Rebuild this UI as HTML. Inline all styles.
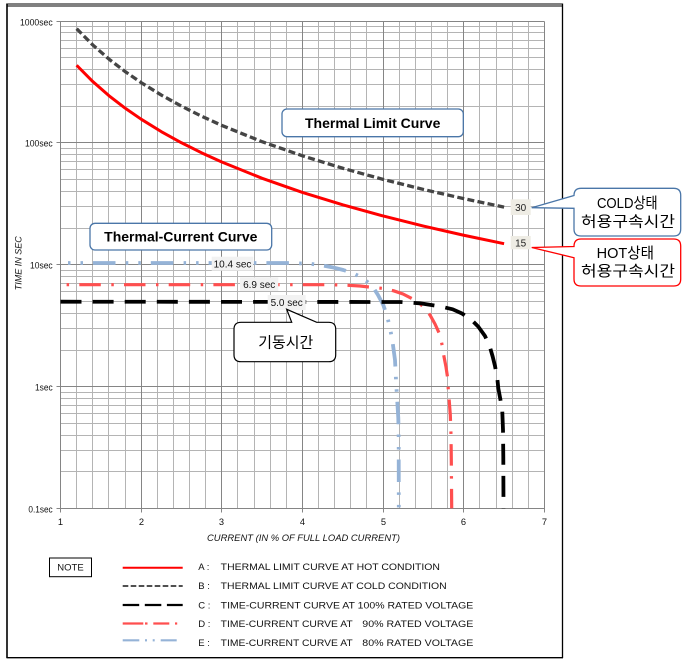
<!DOCTYPE html>
<html><head><meta charset="utf-8"><style>
html,body{margin:0;padding:0;background:#fff;}
svg{display:block;}
text{font-family:"Liberation Sans","Noto Sans CJK KR",sans-serif;}
</style></head><body>
<svg width="690" height="666" viewBox="0 0 690 666" xmlns="http://www.w3.org/2000/svg">
<rect x="0" y="0" width="690" height="666" fill="#fff"/>
<!-- frame -->
<g stroke="#000" fill="none">
<line x1="7" y1="4" x2="563" y2="4" stroke-width="1"/>
<line x1="7" y1="6" x2="563" y2="6" stroke-width="1"/>
<line x1="7" y1="3.5" x2="7" y2="658" stroke-width="1.6"/>
<line x1="562.5" y1="3.5" x2="562.5" y2="658" stroke-width="1.3"/>
<line x1="6.5" y1="657.7" x2="563" y2="657.7" stroke-width="1.3"/>
</g>
<!-- minor grid -->
<path fill="none" stroke="#b4b4b4" stroke-width="1" d="
M76.5,21.5V508.5 M92.5,21.5V508.5 M108.5,21.5V508.5 M125.5,21.5V508.5
M157.5,21.5V508.5 M173.5,21.5V508.5 M189.5,21.5V508.5 M205.5,21.5V508.5
M237.5,21.5V508.5 M254.5,21.5V508.5 M270.5,21.5V508.5 M286.5,21.5V508.5
M318.5,21.5V508.5 M334.5,21.5V508.5 M350.5,21.5V508.5 M366.5,21.5V508.5
M399.5,21.5V508.5 M415.5,21.5V508.5 M431.5,21.5V508.5 M447.5,21.5V508.5
M479.5,21.5V508.5 M496.5,21.5V508.5 M512.5,21.5V508.5 M528.5,21.5V508.5
M60.5,471.5H544.5 M60.5,450.5H544.5 M60.5,435.5H544.5 M60.5,423.5H544.5 M60.5,413.5H544.5 M60.5,405.5H544.5 M60.5,398.5H544.5 M60.5,392.5H544.5
M60.5,350.5H544.5 M60.5,328.5H544.5 M60.5,313.5H544.5 M60.5,301.5H544.5 M60.5,291.5H544.5 M60.5,283.5H544.5 M60.5,276.5H544.5 M60.5,270.5H544.5
M60.5,228.5H544.5 M60.5,206.5H544.5 M60.5,191.5H544.5 M60.5,179.5H544.5 M60.5,169.5H544.5 M60.5,161.5H544.5 M60.5,154.5H544.5 M60.5,148.5H544.5
M60.5,106.5H544.5 M60.5,84.5H544.5 M60.5,69.5H544.5 M60.5,57.5H544.5 M60.5,48.5H544.5 M60.5,40.5H544.5 M60.5,32.5H544.5 M60.5,26.5H544.5
"/>
<!-- major grid -->
<path fill="none" stroke="#858585" stroke-width="1" d="
M60.5,21.5V508.5 M141.5,21.5V508.5 M221.5,21.5V508.5 M302.5,21.5V508.5 M383.5,21.5V508.5 M463.5,21.5V508.5 M544.5,21.5V508.5
M60.5,21.5H544.5 M60.5,142.5H544.5 M60.5,264.5H544.5 M60.5,386.5H544.5 M60.5,508.5H544.5
M56.5,21.5H60.5 M56.5,142.5H60.5 M56.5,264.5H60.5 M56.5,386.5H60.5 M56.5,508.5H60.5
M60.5,508.5V512.5 M141.5,508.5V512.5 M221.5,508.5V512.5 M302.5,508.5V512.5 M383.5,508.5V512.5 M463.5,508.5V512.5 M544.5,508.5V512.5
"/>
<!-- axis labels -->
<g font-size="9" fill="#111" text-anchor="end">
<text x="52.7" y="25.3" textLength="32.7" lengthAdjust="spacingAndGlyphs">1000sec</text>
<text x="52.7" y="146.3" textLength="27.7" lengthAdjust="spacingAndGlyphs">100sec</text>
<text x="52.7" y="268.3" textLength="22.7" lengthAdjust="spacingAndGlyphs">10sec</text>
<text x="52.7" y="390.3" textLength="17.7" lengthAdjust="spacingAndGlyphs">1sec</text>
<text x="52.7" y="512.3" textLength="24.3" lengthAdjust="spacingAndGlyphs">0.1sec</text>
</g>
<g font-size="9.3" fill="#111" text-anchor="middle">
<text x="60.5" y="525">1</text>
<text x="141.5" y="525">2</text>
<text x="221.5" y="525">3</text>
<text x="302.5" y="525">4</text>
<text x="383.5" y="525">5</text>
<text x="463.5" y="525">6</text>
<text x="544.5" y="525">7</text>
</g>
<text x="207" y="541" font-size="9.3" font-style="italic" fill="#111" textLength="193" lengthAdjust="spacingAndGlyphs">CURRENT (IN  % OF FULL LOAD CURRENT)</text>
<text transform="translate(21.5,263.3) rotate(-90)" font-size="9" font-style="italic" fill="#111" text-anchor="middle">TIME IN SEC</text>

<!-- curves -->
<polyline fill="none" stroke="#454545" stroke-width="3.3" stroke-dasharray="7 3.3" stroke-linejoin="round"
points="76.63,28.66 92.76,44.94 108.89,59.04 125.02,71.48 141.15,82.61 161.31,95.05 181.48,106.18 201.64,116.25 221.8,125.44 262.13,141.72 302.45,155.82 342.78,168.26 383.1,179.39 423.43,189.46 463.75,198.65 504.08,207.1"/>
<polyline fill="none" stroke="#ff0000" stroke-width="3" stroke-linejoin="round"
points="76.63,65.25 92.76,81.53 108.89,95.63 125.02,108.07 141.15,119.2 161.31,131.64 181.48,142.77 201.64,152.84 221.8,162.03 262.13,178.31 302.45,192.41 342.78,204.85 383.1,215.98 423.43,226.05 463.75,235.24 504.08,243.69"/>

<polyline fill="none" stroke="#95b3d7" stroke-width="3.8" stroke-dasharray="22.5 10.3 2.5 10 2.5 10" stroke-dashoffset="25.3" stroke-linejoin="round"
points="60.5,263 290,263 300,263.4 310,263.8 320,265 332,267.2 343.3,270 353.3,273.3 363.5,278.5 372.7,286.7 378,295 383.3,305 387.3,316.7 390,328.3 392.3,340 395,360 396,380 397,397 398.3,418 398.7,440 398.8,508.3"/>
<polyline fill="none" stroke="#ff4f4f" stroke-width="3.2" stroke-dasharray="21.5 10.5 2.5 10.2" stroke-dashoffset="25.9" stroke-linejoin="round"
points="60.5,284.7 330,284.7 348,285.3 360,286 371.7,287.3 382,288.3 393.3,290.7 403,294 413.3,299.3 422.7,306 430,315 435,324 440,335 442.3,346 444,356.7 446,367 447.7,378.3 448.3,390 449.3,401.7 450.3,415 451,435 451.3,460 451.7,508.3"/>
<polyline fill="none" stroke="#000" stroke-width="3.8" stroke-dasharray="21 11.1" stroke-linejoin="round"
points="60.5,301.7 400,302 420,303.3 441.7,306.7 452.7,309.3 462,313.5 471.7,320 478.3,326.7 485,336 490,347.3 492.7,356.7 495,366 497.3,378.3 498.3,388.3 500.5,400 502.3,411.7 503,430 503.3,456.7 503.5,508.3"/>

<!-- value labels -->
<rect x="510.7" y="199.3" width="20" height="15.7" fill="#eeece4"/>
<text x="520.7" y="210.8" font-size="10" text-anchor="middle" fill="#222">30</text>
<rect x="510.7" y="236" width="20" height="13.3" fill="#eeece4"/>
<text x="520.7" y="246.3" font-size="10" text-anchor="middle" fill="#222">15</text>

<rect x="211.7" y="256.7" width="41.6" height="14" fill="#f2f2f2"/>
<text x="232.5" y="267.3" font-size="10" text-anchor="middle" fill="#111">10.4 sec</text>
<rect x="240" y="277.3" width="38.3" height="13.7" fill="#f2f2f2"/>
<text x="259.2" y="287.8" font-size="10" text-anchor="middle" fill="#111">6.9 sec</text>
<rect x="267.7" y="295" width="38" height="15" fill="#f2f2f2"/>
<text x="286.7" y="306.2" font-size="10" text-anchor="middle" fill="#111">5.0 sec</text>

<!-- title boxes -->
<rect x="282" y="109" width="181.3" height="27.7" rx="5" ry="5" fill="#fff" stroke="#4a76a8" stroke-width="1.3"/>
<text x="372.7" y="128" font-size="14" font-weight="bold" text-anchor="middle" fill="#000">Thermal Limit Curve</text>
<rect x="90" y="223.3" width="181.7" height="26.7" rx="5" ry="5" fill="#fff" stroke="#4a76a8" stroke-width="1.3"/>
<text x="180.8" y="241.7" font-size="14" font-weight="bold" text-anchor="middle" fill="#000">Thermal-Current Curve</text>

<!-- callouts -->
<path d="M581,188.3 H673.7 Q680.7,188.3 680.7,195.3 V229 Q680.7,236 673.7,236 H581 Q574,236 574,229 V208.3 L531.7,207.7 L574,195.5 Q574,188.3 581,188.3 Z" fill="#fff" stroke="#4a76a8" stroke-width="1.3"/>
<text x="627.3" y="208" font-size="15" text-anchor="middle" fill="#000" textLength="60.7" lengthAdjust="spacingAndGlyphs">COLD상태</text>
<text x="628" y="226.5" font-size="15" text-anchor="middle" fill="#000" textLength="94" lengthAdjust="spacingAndGlyphs">허용구속시간</text>

<path d="M581,239 H673.7 Q680.7,239 680.7,246 V279 Q680.7,286 673.7,286 H581 Q574,286 574,279 V257.7 L531.7,247.5 L574,246.5 Q574,239 581,239 Z" fill="#fff" stroke="#ff0000" stroke-width="1.3"/>
<text x="625.3" y="257.8" font-size="15" text-anchor="middle" fill="#000" textLength="57.3" lengthAdjust="spacingAndGlyphs">HOT상태</text>
<text x="628" y="276" font-size="15" text-anchor="middle" fill="#000" textLength="94" lengthAdjust="spacingAndGlyphs">허용구속시간</text>

<path d="M241,322.3 H291.7 L286.7,309.3 L316.7,322.3 H328.7 Q335.7,322.3 335.7,329.3 V354.7 Q335.7,361.7 328.7,361.7 H241 Q234,361.7 234,354.7 V329.3 Q234,322.3 241,322.3 Z" fill="#fff" stroke="#000" stroke-width="1.2"/>
<text x="285.8" y="347.5" font-size="15" text-anchor="middle" fill="#000" textLength="55" lengthAdjust="spacingAndGlyphs">기동시간</text>

<!-- legend -->
<rect x="49.5" y="558" width="42" height="18.7" fill="#fff" stroke="#000" stroke-width="1"/>
<text x="70.5" y="570.5" font-size="9.5" text-anchor="middle" fill="#111">NOTE</text>

<line x1="122.7" y1="567.7" x2="182.7" y2="567.7" stroke="#ff0000" stroke-width="2"/>
<line x1="122.7" y1="586" x2="182.7" y2="586" stroke="#505050" stroke-width="2" stroke-dasharray="5.6 2.4"/>
<line x1="122.7" y1="605" x2="182.7" y2="605" stroke="#000" stroke-width="2.2" stroke-dasharray="16.5 5.6"/>
<g stroke="#ff4f4f" stroke-width="2.2">
<line x1="122.7" y1="623.5" x2="143.3" y2="623.5"/>
<line x1="145" y1="623.5" x2="147.5" y2="623.5"/>
<line x1="153.3" y1="623.5" x2="169.3" y2="623.5"/>
<line x1="175" y1="623.5" x2="177.2" y2="623.5"/>
</g>
<g stroke="#95b3d7" stroke-width="2.2">
<line x1="122.7" y1="640.3" x2="139.3" y2="640.3"/>
<line x1="145" y1="640.3" x2="147" y2="640.3"/>
<line x1="152.7" y1="640.3" x2="154.7" y2="640.3"/>
<line x1="160.7" y1="640.3" x2="176.7" y2="640.3"/>
</g>

<g font-size="9.5" fill="#111">
<text x="198.3" y="570.2">A :</text>
<text x="220.7" y="570.2" textLength="219.3" lengthAdjust="spacingAndGlyphs">THERMAL LIMIT CURVE AT HOT CONDITION</text>
<text x="198.3" y="589.2">B :</text>
<text x="220.7" y="589.2" textLength="226" lengthAdjust="spacingAndGlyphs">THERMAL LIMIT CURVE AT COLD CONDITION</text>
<text x="198.3" y="608.4">C :</text>
<text x="220.7" y="608.4" textLength="252.6" lengthAdjust="spacingAndGlyphs">TIME-CURRENT CURVE AT 100% RATED VOLTAGE</text>
<text x="198.3" y="627.2">D :</text>
<text x="220.7" y="627.2" textLength="132" lengthAdjust="spacingAndGlyphs">TIME-CURRENT CURVE AT</text>
<text x="362.3" y="627.2" textLength="111" lengthAdjust="spacingAndGlyphs">90% RATED VOLTAGE</text>
<text x="198.3" y="646.2">E :</text>
<text x="220.7" y="646.2" textLength="132" lengthAdjust="spacingAndGlyphs">TIME-CURRENT CURVE AT</text>
<text x="362.3" y="646.2" textLength="111" lengthAdjust="spacingAndGlyphs">80% RATED VOLTAGE</text>
</g>
</svg>
</body></html>
